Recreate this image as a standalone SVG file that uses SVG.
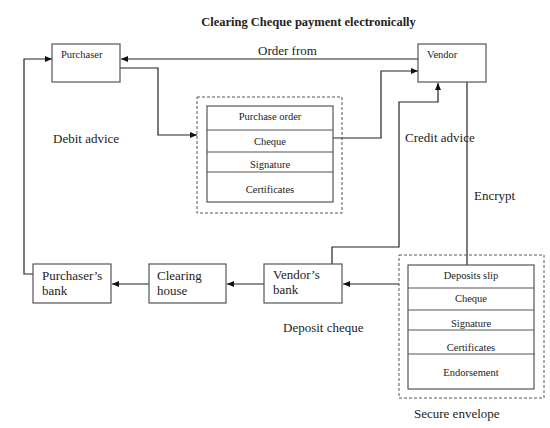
<svg xmlns="http://www.w3.org/2000/svg" width="550" height="428" viewBox="0 0 550 428">
<defs>
<marker id="ah" markerWidth="7" markerHeight="6" refX="7" refY="3" orient="auto" markerUnits="userSpaceOnUse">
<path d="M0,0 L7,3 L0,6 Z" fill="#111"/>
</marker>
<style>
.box{fill:#fff;stroke:#555;stroke-width:1.2}
.dash{fill:none;stroke:#555;stroke-width:1;stroke-dasharray:3,2}
.row{stroke:#555;stroke-width:1.2}
.con{fill:none;stroke:#222;stroke-width:1.2}
.t{font-family:"Liberation Serif",serif;fill:#222}
.s{font-size:10.5px}
.m{font-size:13px}
.c{text-anchor:middle}
</style>
</defs>
<rect width="550" height="428" fill="#fff"/>
<text class="t c" x="308.5" y="26" font-size="12.5" font-weight="bold" fill="#111">Clearing Cheque payment electronically</text>

<g id="connectors">
<path class="con" d="M418,59 L121,59" marker-end="url(#ah)"/>
<path class="con" d="M120,68 L158,68 L158,135 L197,135" marker-end="url(#ah)"/>
<path class="con" d="M323,138 L381,138 L381,71 L418,71" marker-end="url(#ah)"/>
<path class="con" d="M332,264 L332,247 L399,247 L399,102 L438,102 L438,83" marker-end="url(#ah)"/>
<path class="con" d="M467,77 L467,277" marker-end="url(#ah)"/>
<path class="con" d="M399,284 L343,284" marker-end="url(#ah)"/>
<path class="con" d="M264,284 L227,284" marker-end="url(#ah)"/>
<path class="con" d="M149,284 L112,284" marker-end="url(#ah)"/>
<path class="con" d="M33,274 L24,274 L24,59 L52,59" marker-end="url(#ah)"/>
</g>

<g id="purchaser">
<rect class="box" x="52" y="44" width="68" height="38"/>
<text class="t s" x="61" y="58">Purchaser</text>
</g>
<g id="vendor">
<rect class="box" x="418" y="44" width="68" height="38"/>
<text class="t s" x="427" y="58">Vendor</text>
</g>

<g id="digital-envelope">
<rect class="dash" x="197" y="97" width="145" height="116"/>
<rect class="box" x="207" y="106" width="126" height="96"/>
<line class="row" x1="207" y1="130" x2="333" y2="130"/>
<line class="row" x1="207" y1="152" x2="333" y2="152"/>
<line class="row" x1="207" y1="172" x2="333" y2="172"/>
<text class="t s c" x="270" y="120">Purchase order</text>
<text class="t s c" x="270" y="145">Cheque</text>
<text class="t s c" x="270" y="168">Signature</text>
<text class="t s c" x="270" y="193">Certificates</text>
</g>

<g id="secure-envelope">
<rect class="dash" x="399" y="255" width="145" height="143"/>
<rect class="box" x="408" y="265" width="126" height="124"/>
<line class="row" x1="408" y1="288" x2="534" y2="288"/>
<line class="row" x1="408" y1="310" x2="534" y2="310"/>
<line class="row" x1="408" y1="330" x2="534" y2="330"/>
<line class="row" x1="408" y1="354" x2="535" y2="354"/>
<text class="t s c" x="471" y="279">Deposits slip</text>
<text class="t s c" x="471" y="302">Cheque</text>
<text class="t s c" x="471" y="327">Signature</text>
<text class="t s c" x="471" y="351">Certificates</text>
<text class="t s c" x="471" y="376">Endorsement</text>
</g>

<g id="vendors-bank">
<rect class="box" x="264" y="264" width="78" height="39"/>
<text class="t m" x="273" y="279">Vendor’s</text>
<text class="t m" x="273" y="294">bank</text>
</g>
<g id="clearing-house">
<rect class="box" x="149" y="264" width="77" height="39"/>
<text class="t m" x="157" y="280">Clearing</text>
<text class="t m" x="157" y="295">house</text>
</g>
<g id="purchasers-bank">
<rect class="box" x="33" y="264" width="78" height="39"/>
<text class="t m" x="42" y="280">Purchaser’s</text>
<text class="t m" x="42" y="295">bank</text>
</g>

<g id="labels">
<text class="t m" x="258" y="55">Order from</text>
<text class="t m" x="53" y="143">Debit advice</text>
<text class="t m" x="405" y="142">Credit advice</text>
<text class="t m" x="474" y="200">Encrypt</text>
<text class="t m" x="283" y="332">Deposit cheque</text>
<text class="t m" x="414" y="418">Secure envelope</text>
</g>
</svg>
